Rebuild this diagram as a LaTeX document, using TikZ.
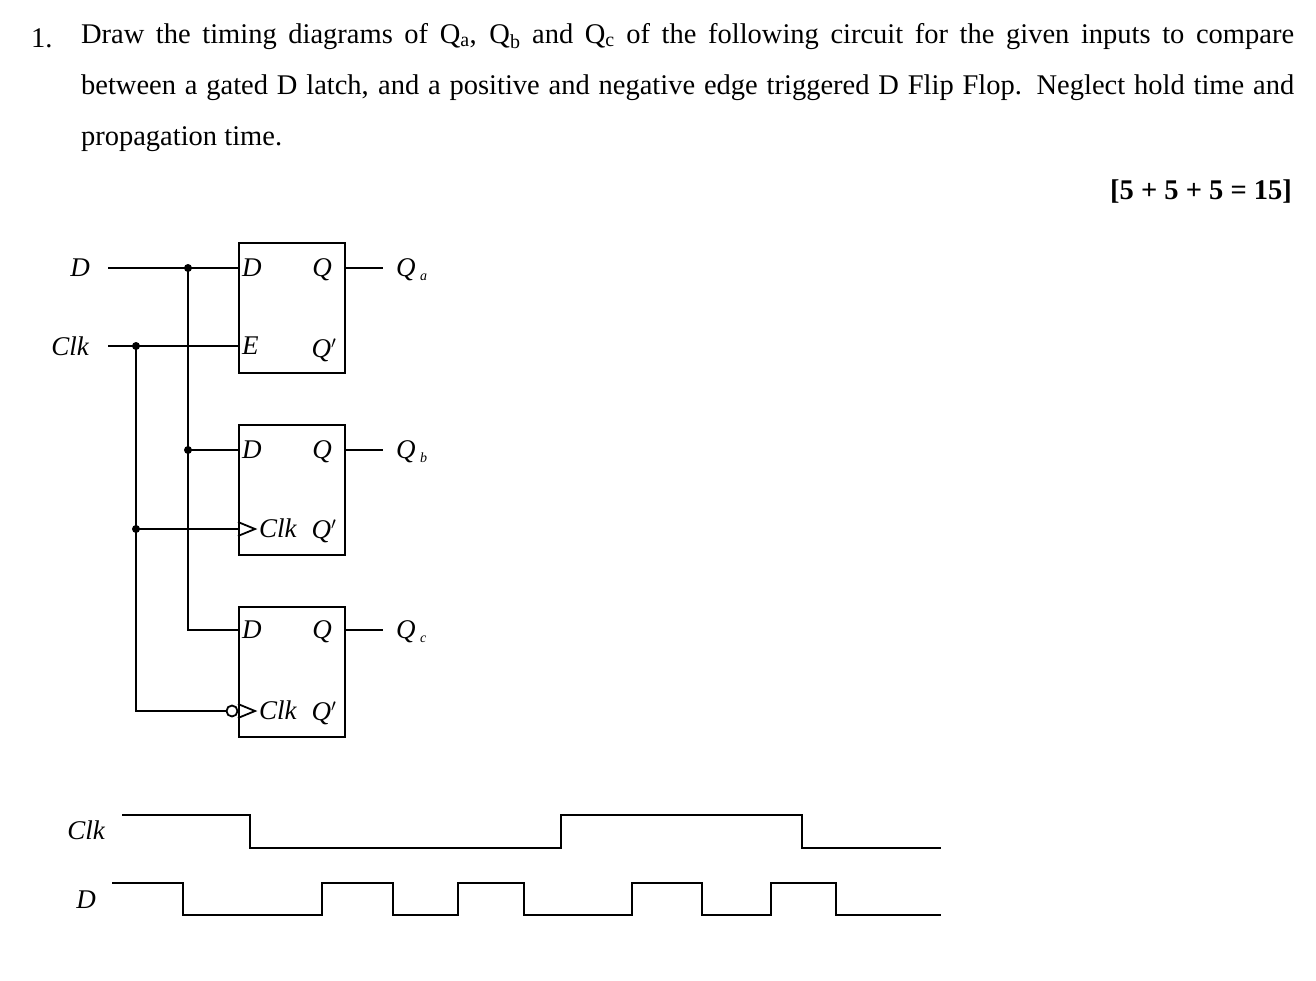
\documentclass[tikz,border=0pt]{standalone}
\usepackage{fontspec}
\setmainfont{Liberation Serif}
\begin{document}
\begin{tikzpicture}[x=1pt,y=-1pt,line width=2.2pt,
  lbl/.style={font=\fontsize{27}{29}\selectfont\itshape,inner sep=0pt},
  box/.style={draw,line width=2.2pt,minimum width=106pt,minimum height=130pt,anchor=north west,inner sep=0pt},
  dot/.style={circle,fill,inner sep=0pt,minimum size=8pt}]
\useasboundingbox (0,0) rectangle (1316,980);
\node[anchor=base west,inner sep=0pt,font=\fontsize{28.5}{28.5}\selectfont] (num) at (30,47) {1.};
\node[anchor=north west,inner sep=0pt,font=\fontsize{28.5}{51}\selectfont,text width=1213pt,align=justify] (title) at (80,22)
 {Draw the timing diagrams of Q\textsubscript{a}, Q\textsubscript{b} and Q\textsubscript{c} of the following circuit for the given inputs to compare\linebreak between a gated D latch, and a positive and negative edge triggered D Flip Flop. Neglect hold time and\linebreak propagation time.};
\node[anchor=base east,inner sep=0pt,font=\fontsize{28.5}{28.5}\selectfont\bfseries] (marks) at (1293,199) {[5 + 5 + 5 = 15]};
% boxes
\node[box] (A) at (238,242) {};
\node[box] (B) at (238,424) {};
\node[box] (C) at (238,606) {};
% inner labels
\node[lbl,anchor=west] (AD) at (241,268) {D};
\node[lbl] (AQ) at (322,270) {Q};
\node[lbl,anchor=west] (AE) at (241,346) {E};
\node[lbl] (AQn) at (324,350) {Q$'$};
\node[lbl,anchor=west] (BD) at (241,450) {D};
\node[lbl] (BQ) at (322,452) {Q};
\node[lbl,anchor=west] (BC) at (258,528) {Clk};
\node[lbl] (BQn) at (324,531) {Q$'$};
\node[lbl,anchor=west] (CD) at (241,630) {D};
\node[lbl] (CQ) at (322,632) {Q};
\node[lbl,anchor=west] (CC) at (258,710) {Clk};
\node[lbl] (CQn) at (324,713) {Q$'$};
% clock triangles
\draw[line width=1.8pt] (238,522) -- (255,529) -- (238,536);
\draw[line width=1.8pt] (238,704) -- (255,711) -- (238,718);
\node[circle,draw,line width=1.8pt,fill=white,inner sep=0pt,minimum size=11pt] (bub) at (232,711) {};
% inputs
\node[lbl] (Din) at (80,268) {D};
\node[lbl] (Cin) at (70,346) {Clk};
\coordinate (d0) at (108,268);
\coordinate (c0) at (108,346);
\node[dot] (j1) at (188,268) {};
\node[dot] (j2) at (136,346) {};
\node[dot] (j3) at (188,450) {};
\node[dot] (j4) at (136,529) {};
\draw (d0) -- (238,268);
\draw (c0) -- (238,346);
\draw (j1.center) -- (188,630) -- (238,630);
\draw (j3.center) -- (238,450);
\draw (j2.center) -- (136,711) -- (bub.west);
\draw (j4.center) -- (238,529);
% outputs
\draw (344,268) -- (383,268);
\draw (344,450) -- (383,450);
\draw (344,630) -- (383,630);
\node[lbl,anchor=west] (Qa) at (395,270) {Q\,\textsubscript{\fontsize{14}{14}\selectfont a}};
\node[lbl,anchor=west] (Qb) at (395,452) {Q\,\textsubscript{\fontsize{14}{14}\selectfont b}};
\node[lbl,anchor=west] (Qc) at (395,632) {Q\,\textsubscript{\fontsize{14}{14}\selectfont c}};
% timing
\node[lbl] (tclk) at (86,830) {Clk};
\node[lbl] (td) at (86,900) {D};
\draw[line width=2.6pt] (122,815) -- (250,815) -- (250,848) -- (561,848) -- (561,815) -- (802,815) -- (802,848) -- (941,848);
\draw[line width=2.6pt] (112,883) -- (183,883) -- (183,915) -- (322,915) -- (322,883) -- (393,883) -- (393,915) -- (458,915) -- (458,883) -- (524,883) -- (524,915) -- (632,915) -- (632,883) -- (702,883) -- (702,915) -- (771,915) -- (771,883) -- (836,883) -- (836,915) -- (941,915);
\end{tikzpicture}
\end{document}
